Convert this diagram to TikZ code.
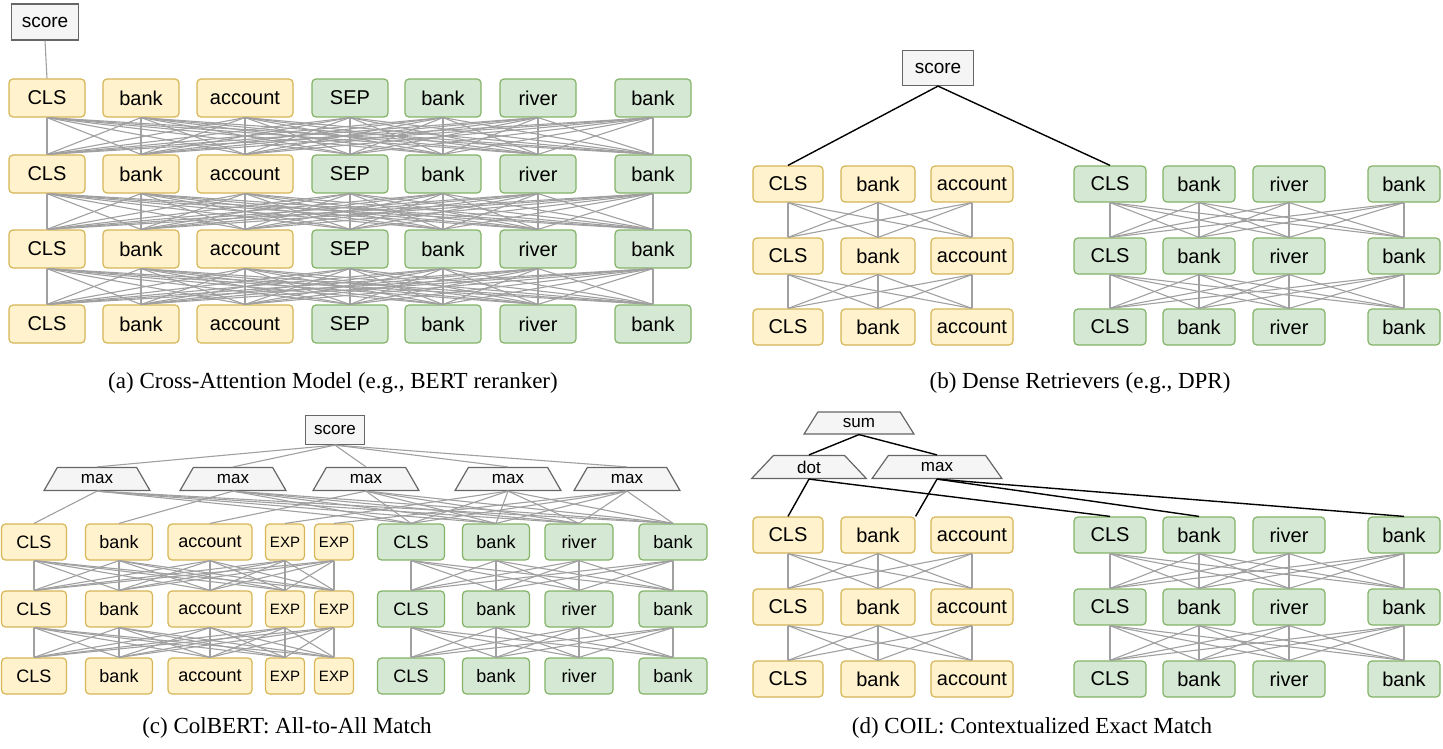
\documentclass[tikz,border=0pt]{standalone}
\usepackage{fontspec}
\setmainfont{Liberation Serif}
\setsansfont{Liberation Sans}
\usetikzlibrary{shapes.geometric}
\definecolor{yf}{HTML}{FFF2CC}\definecolor{yd}{HTML}{D6B656}
\definecolor{gf}{HTML}{D5E8D4}\definecolor{gd}{HTML}{82B366}
\definecolor{bf}{HTML}{F5F5F5}\definecolor{bd}{HTML}{666666}
\definecolor{ln}{HTML}{A0A0A0}
\begin{document}
\begin{tikzpicture}[x=1pt,y=-1pt,
 tok/.style={draw, rounded corners=4pt, line width=1.2pt, inner sep=0pt, font=\sffamily\fontsize{20}{22}\selectfont},
 box/.style={draw=bd, fill=bf, line width=1.2pt, inner sep=0pt, font=\sffamily\fontsize{19}{22}\selectfont},
 trap/.style={trapezium, trapezium stretches=true, draw=bd, fill=bf, line width=1.2pt, inner sep=0pt, font=\sffamily\fontsize{17}{20}\selectfont},
 gl/.style={draw=ln, line width=1.1pt},
 bl/.style={draw=black, line width=1.4pt},
 captxt/.style={font=\fontsize{23}{26}\selectfont}]
\useasboundingbox (0,0) rectangle (1443,749);
% ---------- (a)
\foreach \r/\y in {1/98,2/174,3/249,4/324}{
 \foreach \i/\x/\w/\t/\f/\d in {1/47/76/CLS/yf/yd,2/141/76/bank/yf/yd,3/245/96/account/yf/yd,4/350/76/SEP/gf/gd,5/443/76/bank/gf/gd,6/538/76/river/gf/gd,7/653/76/bank/gf/gd}
  \node[tok, fill=\f, draw=\d, minimum width=\w pt, minimum height=38pt] (a\r-\i) at (\x,\y) {\t};}
\foreach \r in {1,2,3}{\pgfmathtruncatemacro\s{\r+1}
 \foreach \i in {1,...,7}{\foreach \j in {1,...,7}{\draw[gl] (a\r-\i.south) -- (a\s-\j.north);}}}
\node[box, minimum width=67pt, minimum height=36pt] (ascore) at (45,22) {score};
\draw[gl] (ascore.south) -- (a1-1.north);
\node[captxt] (capa) at (333,383) {(a) Cross-Attention Model (e.g., BERT reranker)};
% ---------- (b) and (d) towers
\foreach \p/\ya/\yb/\yc in {b/184/256/327,d/535/607/679}{
 \foreach \r/\y in {1/\ya,2/\yb,3/\yc}{
  \foreach \i/\x/\w/\t/\f/\d in {1/788/70/CLS/yf/yd,2/878/74/bank/yf/yd,3/972/82/account/yf/yd}
   \node[tok, fill=\f, draw=\d, minimum width=\w pt, minimum height=36pt] (\p q\r-\i) at (\x,\y) {\t};
  \foreach \i/\x/\w/\t in {1/1110/72/CLS,2/1199/72/bank,3/1289/72/river,4/1404/72/bank}
   \node[tok, fill=gf, draw=gd, minimum width=\w pt, minimum height=36pt] (\p d\r-\i) at (\x,\y) {\t};}
 \foreach \r in {1,2}{\pgfmathtruncatemacro\s{\r+1}
  \foreach \i in {1,2,3}{\foreach \j in {1,2,3}{\draw[gl] (\p q\r-\i.south) -- (\p q\s-\j.north);}}
  \foreach \i in {1,...,4}{\foreach \j in {1,...,4}{\draw[gl] (\p d\r-\i.south) -- (\p d\s-\j.north);}}}}
\node[box, minimum width=71pt, minimum height=35pt] (bscore) at (938,68) {score};
\draw[bl] (bscore.south) -- (bq1-1.north);
\draw[bl] (bscore.south) -- (bd1-1.north);
\node[captxt] (capb) at (1080,383) {(b) Dense Retrievers (e.g., DPR)};
% ---------- (d) top
\node[trap, minimum width=110pt, minimum height=22pt] (sum) at (859,423) {sum};
\node[trap, minimum width=115pt, minimum height=23pt] (dot) at (809,467) {dot};
\node[trap, minimum width=130pt, minimum height=23pt] (dmax) at (937,467) {max};
\draw[bl] (sum.south) -- (dot.north);
\draw[bl] (sum.south) -- (dmax.north);
\draw[bl] (dot.south) -- (dq1-1.north);
\draw[bl] (dot.south) -- (dd1-1.north);
\draw[bl] (dmax.south) -- (dq1-2.north east);
\draw[bl] (dmax.south) -- (dd1-2.north);
\draw[bl] (dmax.south) -- (dd1-4.north);
\node[captxt] (capd) at (1032,728) {(d) COIL: Contextualized Exact Match};
% ---------- (c)
\foreach \r/\y in {1/542,2/609,3/676}{
 \foreach \i/\x/\w/\t in {1/34/65/CLS,2/119/67/bank,3/210/84/account,4/285/39/EXP,5/334/39/EXP}
  \node[tok, fill=yf, draw=yd, minimum width=\w pt, minimum height=36pt, font=\sffamily\fontsize{18}{20}\selectfont] (cq\r-\i) at (\x,\y) {\ifnum\i>3\fontsize{15}{18}\selectfont\fi\t};
 \foreach \i/\x/\w/\t in {1/411/67/CLS,2/496/67/bank,3/579/68/river,4/673/68/bank}
  \node[tok, fill=gf, draw=gd, minimum width=\w pt, minimum height=36pt, font=\sffamily\fontsize{18}{20}\selectfont] (cd\r-\i) at (\x,\y) {\t};}
\foreach \r in {1,2}{\pgfmathtruncatemacro\s{\r+1}
 \foreach \i in {1,...,5}{\foreach \j in {1,...,5}{\draw[gl] (cq\r-\i.south) -- (cq\s-\j.north);}}
 \foreach \i in {1,...,4}{\foreach \j in {1,...,4}{\draw[gl] (cd\r-\i.south) -- (cd\s-\j.north);}}}
\node[box, minimum width=59pt, minimum height=29pt, font=\sffamily\fontsize{17}{20}\selectfont] (cscore) at (335,430) {score};
\foreach \k/\x in {1/97,2/233,3/366,4/508,5/627}{
 \node[trap, minimum width=106pt, minimum height=23pt] (cm\k) at (\x,479) {max};
 \draw[gl] (cscore.south) -- (cm\k.north);
 \draw[gl] (cm\k.south) -- (cq1-\k.north);
 \foreach \j in {1,...,4}{\draw[gl] (cm\k.south) -- (cd1-\j.north);}}
\node[captxt] (capc) at (287,728) {(c) ColBERT: All-to-All Match};
\end{tikzpicture}
\end{document}
